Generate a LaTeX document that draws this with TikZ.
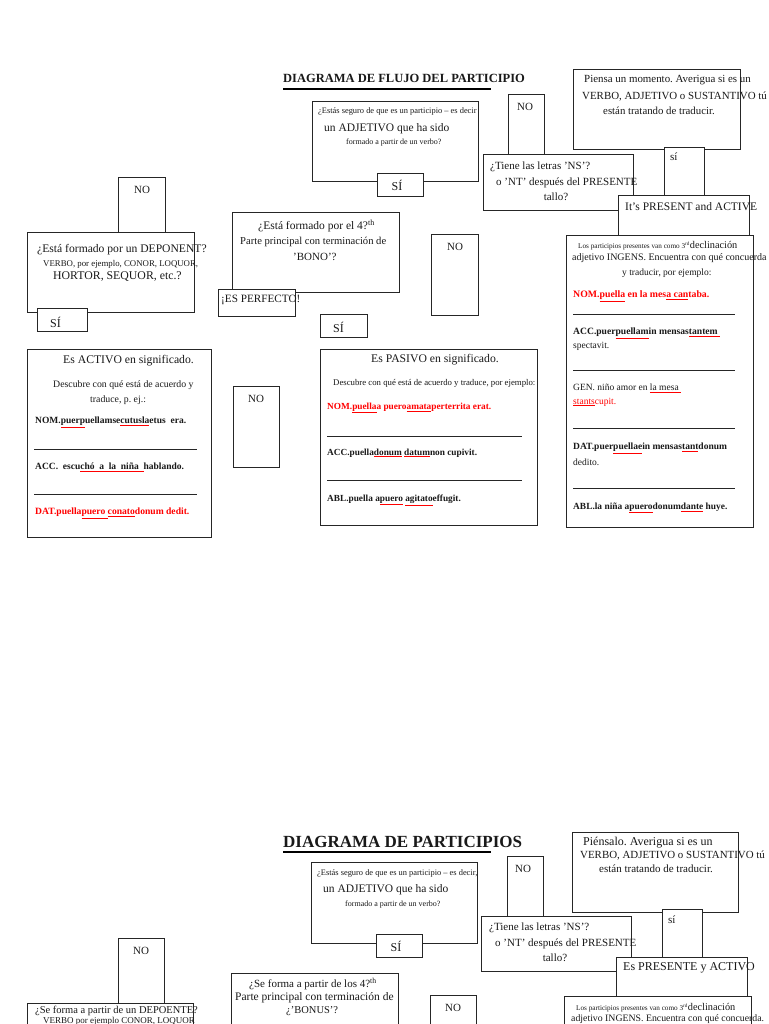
\documentclass[tikz,border=0pt]{standalone}
\usepackage{fontspec}
\setmainfont{Liberation Serif}
\frenchspacing
\newcommand\fz[1]{\fontsize{#1}{#1}\selectfont}
\newcommand\rul[1]{\begingroup\colorlet{txtc}{.}\color{red}\underline{\color{txtc}#1}\endgroup}
\begin{document}
\begin{tikzpicture}[x=1pt,y=-1pt,
  box/.style={draw=black!85,line width=0.9pt,fill=white},
  rl/.style={draw=black!85,line width=0.9pt},
  t/.style={anchor=west,inner sep=0pt,text=black!90},
  tc/.style={anchor=center,inner sep=0pt,text=black!90},
  rt/.style={anchor=west,inner sep=0pt,text=red}]
\useasboundingbox (0,0) rectangle (768,1024);
\clip (0,0) rectangle (768,1024);
\fill[white] (0,0) rectangle (768,1024);

% ================= TOP COPY =================
% boxes
\draw[box] (312,101) rectangle (478,181);
\draw[box] (377,173) rectangle (423,196);
\draw[box] (508,94) rectangle (544,154);
\draw[box] (483,154) rectangle (633,210);
\draw[box] (573,69) rectangle (740,149);
\draw[box] (664,147) rectangle (704,196);
\draw[box] (618,195) rectangle (749,236);
\draw[box] (566,235) rectangle (753,527);
\draw[box] (118,177) rectangle (165,232);
\draw[box] (27,232) rectangle (194,312);
\draw[box] (37,308) rectangle (87,331);
\draw[box] (232,212) rectangle (399,292);
\draw[box] (218,289) rectangle (295,316);
\draw[box] (320,314) rectangle (367,337);
\draw[box] (431,234) rectangle (478,315);
\draw[box] (27,349) rectangle (211,537);
\draw[box] (233,386) rectangle (279,467);
\draw[box] (320,349) rectangle (537,525);
% rules
\draw[line width=1.1pt] (283,89) -- (491,89);
\draw[rl] (573,314) -- (735,314);
\draw[rl] (573,370) -- (735,370);
\draw[rl] (573,428) -- (735,428);
\draw[rl] (573,488) -- (735,488);
\draw[rl] (34,449) -- (197,449);
\draw[rl] (34,494) -- (197,494);
\draw[rl] (327,436) -- (522,436);
\draw[rl] (327,480) -- (522,480);

% texts
\node[t,font=\fz{12.5}\bfseries] (title1) at (283,78) {DIAGRAMA DE FLUJO DEL PARTICIPIO};
\node[t,font=\fz{8.4}] (a1) at (318,111) {¿Estás seguro de que es un participio – es decir};
\node[t,font=\fz{11.5}] (a2) at (324,129) {un ADJETIVO que ha sido};
\node[t,font=\fz{8}] (a3) at (346,143) {formado a partir de un verbo?};
\node[tc,font=\fz{12}] (si1) at (397,185) {SÍ};
\node[tc,font=\fz{11}] (no1) at (525,107) {NO};
\node[t,font=\fz{11}] (b1) at (490,167) {¿Tiene las letras 'NS'?};
\node[t,font=\fz{11}] (b2) at (496,183) {o 'NT' después del PRESENTE};
\node[tc,font=\fz{11}] (b3) at (556,197) {tallo?};
\node[t,font=\fz{10.9}] (p1) at (584,80) {Piensa un momento. Averigua si es un};
\node[t,font=\fz{10.9}] (p2) at (582,97) {VERBO, ADJETIVO o SUSTANTIVO tú};
\node[t,font=\fz{10.8}] (p3) at (603,111) {están tratando de traducir.};
\node[t,font=\fz{11}] (si2) at (670,157) {sí};
\node[t,font=\fz{11.5}] (pa) at (625,207) {It's PRESENT and ACTIVE};
\node[t] (r1) at (578,246) {{\fz{7.2}Los participios presentes van como 3\textsuperscript{rd}}{\fz{10.3}declinación}};
\node[t,font=\fz{10}] (r2) at (572,258) {adjetivo INGENS. Encuentra con qué concuerda};
\node[t,font=\fz{9.5}] (r3) at (622,273) {y traducir, por ejemplo:};
\node[rt,font=\fz{9.8}\bfseries] (r4) at (573,296) {NOM.\rul{puella} en la mes\rul{a can}taba.};
\node[t,font=\fz{9.6}\bfseries] (r5) at (573,333) {ACC.puer\rul{puellam}in mensas\rul{tantem\ }};
\node[t,font=\fz{9.5}] (r6) at (573,346) {spectavit.};
\node[t,font=\fz{9.5}] (r7) at (573,388) {GEN. niño amor en \rul{la mesa\ }};
\node[rt,font=\fz{9.5}] (r8) at (573,402) {\rul{stants}cupit.};
\node[t,font=\fz{9.5}\bfseries] (r9) at (573,448) {DAT.puer\rul{puellae}in mensas\rul{tant}donum};
\node[t,font=\fz{9.5}] (r10) at (573,462) {dedito.};
\node[t,font=\fz{9.4}\bfseries] (r11) at (573,508) {ABL.la niña a\rul{puero}donum\rul{dante} huye.};
\node[tc,font=\fz{11}] (no2) at (142,190) {NO};
\node[t,font=\fz{11.6}] (d1) at (37,250) {¿Está formado por un DEPONENT?};
\node[t,font=\fz{8.8}] (d2) at (43,264) {VERBO, por ejemplo, CONOR, LOQUOR,};
\node[t,font=\fz{11.8}] (d3) at (53,277) {HORTOR, SEQUOR, etc.?};
\node[t,font=\fz{12}] (si3) at (50,322) {SÍ};
\node[t,font=\fz{11.5}] (e1) at (258,226) {¿Está formado por el 4?\textsuperscript{th}};
\node[t,font=\fz{10.6}] (e2) at (240,242) {Parte principal con terminación de};
\node[t,font=\fz{11}] (e3) at (293,257) {'BONO'?};
\node[t,font=\fz{11.2}] (perf) at (221,300) {¡ES PERFECTO!};
\node[t,font=\fz{12}] (si4) at (333,327) {SÍ};
\node[tc,font=\fz{11}] (no3) at (455,247) {NO};
\node[t,font=\fz{11.7}] (f1) at (63,361) {Es ACTIVO en significado.};
\node[t,font=\fz{9.8}] (f2) at (53,385) {Descubre con qué está de acuerdo y};
\node[t,font=\fz{9.8}] (f3) at (90,400) {traduce, p. ej.:};
\node[t,font=\fz{9.5}\bfseries] (f4) at (35,422) {NOM.\rul{puerp}uellamse\rul{cutusla}etus\ \ era.};
\node[t,font=\fz{9.5}\bfseries] (f5) at (35,467) {ACC.\ \ escu\rul{chó\ \ a\ \ la\ \ niña\ \ }hablando.};
\node[rt,font=\fz{9.6}\bfseries] (f6) at (35,513) {DAT.puella\rul{puero\ }\rul{conato}donum dedit.};
\node[tc,font=\fz{11}] (no4) at (256,399) {NO};
\node[t,font=\fz{11.7}] (g1) at (371,360) {Es PASIVO en significado.};
\node[t,font=\fz{8.75}] (g2) at (333,383) {Descubre con qué está de acuerdo y traduce, por ejemplo:};
\node[rt,font=\fz{9.3}\bfseries] (g3) at (327,408) {NOM.\rul{puella}a puero\rul{amata}perterrita erat.};
\node[t,font=\fz{9.3}\bfseries] (g4) at (327,453) {ACC.puella\rul{donum} \rul{datum}non cupivit.};
\node[t,font=\fz{9.3}\bfseries] (g5) at (327,500) {ABL.puella a\rul{puero} \rul{agitato}effugit.};

% ================= BOTTOM COPY =================
\draw[box] (311,862) rectangle (477,943);
\draw[box] (376,934) rectangle (422,957);
\draw[box] (507,856) rectangle (543,916);
\draw[box] (481,916) rectangle (631,971);
\draw[box] (572,832) rectangle (738,912);
\draw[box] (662,909) rectangle (702,958);
\draw[box] (616,957) rectangle (747,998);
\draw[box] (564,996) rectangle (751,1040);
\draw[box] (118,938) rectangle (164,1003);
\draw[box] (27,1003) rectangle (193,1040);
\draw[box] (231,973) rectangle (398,1040);
\draw[box] (430,995) rectangle (476,1040);
\draw[line width=1.1pt] (283,852) -- (491,852);

\node[t,font=\fz{17}\bfseries] (title2) at (283,842) {DIAGRAMA DE PARTICIPIOS};
\node[t,font=\fz{8.4}] (ba1) at (317,873) {¿Estás seguro de que es un participio – es decir,};
\node[t,font=\fz{11.5}] (ba2) at (323,890) {un ADJETIVO que ha sido};
\node[t,font=\fz{8}] (ba3) at (345,905) {formado a partir de un verbo?};
\node[tc,font=\fz{12}] (bsi1) at (396,946) {SÍ};
\node[tc,font=\fz{11}] (bno1) at (523,869) {NO};
\node[t,font=\fz{11}] (bb1) at (489,928) {¿Tiene las letras 'NS'?};
\node[t,font=\fz{11}] (bb2) at (495,944) {o 'NT' después del PRESENTE};
\node[tc,font=\fz{11}] (bb3) at (555,958) {tallo?};
\node[t,font=\fz{12}] (bp1) at (583,843) {Piénsalo. Averigua si es un};
\node[t,font=\fz{10.9}] (bp2) at (580,856) {VERBO, ADJETIVO o SUSTANTIVO tú};
\node[t,font=\fz{11}] (bp3) at (599,869) {están tratando de traducir.};
\node[t,font=\fz{11}] (bsi2) at (668,920) {sí};
\node[t,font=\fz{12}] (bpa) at (623,968) {Es PRESENTE y ACTIVO};
\node[t] (br1) at (576,1008) {{\fz{7.2}Los participios presentes van como 3\textsuperscript{rd}}{\fz{10.3}declinación}};
\node[t,font=\fz{9.8}] (br2) at (571,1019) {adjetivo INGENS. Encuentra con qué concuerda.};
\node[tc,font=\fz{11}] (bno2) at (141,951) {NO};
\node[t,font=\fz{10.5}] (bd1) at (35,1011) {¿Se forma a partir de un DEPOENTE?};
\node[t,font=\fz{9}] (bd2) at (43,1021) {VERBO por ejemplo CONOR, LOQUOR};
\node[t,font=\fz{11}] (be1) at (249,984) {¿Se forma a partir de los 4?\textsuperscript{th}};
\node[t,font=\fz{11.5}] (be2) at (235,998) {Parte principal con terminación de};
\node[t,font=\fz{10.5}] (be3) at (286,1011) {¿'BONUS'?};
\node[tc,font=\fz{11}] (bno3) at (453,1008) {NO};
\end{tikzpicture}
\end{document}
